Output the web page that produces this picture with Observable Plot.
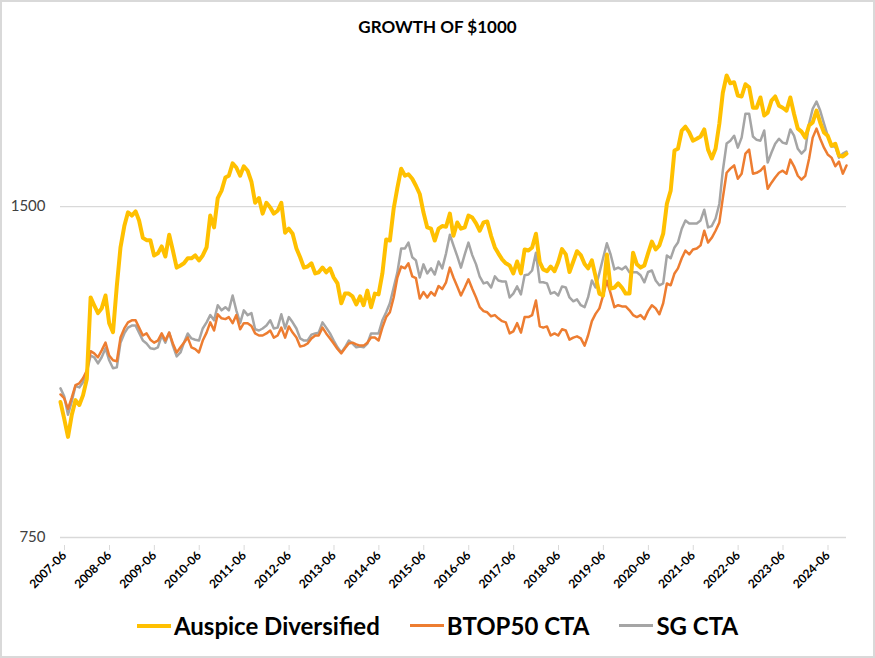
<!DOCTYPE html>
<html><head><meta charset="utf-8">
<script src="https://cdn.jsdelivr.net/npm/d3@7"></script>
<script src="https://cdn.jsdelivr.net/npm/@observablehq/plot@0.6"></script>
<style>
html,body{margin:0;padding:0;background:#fff;}
#wrap{position:relative;width:875px;height:658px;overflow:hidden;font-family:Lato,"Open Sans",sans-serif;background:#fff;}
#frame{position:absolute;left:0;top:0;width:875px;height:658px;box-sizing:border-box;border:2px solid #d9d9d9;pointer-events:none;}
#title{position:absolute;top:16px;left:0;width:875px;text-align:center;font-weight:bold;font-size:17px;color:#000;}
#chart{position:absolute;top:0;left:0;}
#legend{position:absolute;top:611px;left:0;width:875px;display:flex;justify-content:center;align-items:center;font-weight:bold;font-size:24px;color:#000;}
.item{display:flex;align-items:center;margin:0 15px;}
.sw{display:inline-block;width:34px;margin-right:3px;}
</style></head>
<body><div id="wrap">
<div id="title">GROWTH OF $1000</div>
<div id="chart"></div>
<div id="legend"></div>
<div id="frame"></div>
</div>
<script>
const startMonth = "2007-06";
const seriesNames = ["Auspice Diversified", "BTOP50 CTA", "SG CTA"];
const seriesColors = ["#FFC000", "#ED7D31", "#A5A5A5"];
const yTicks = [750, 1500];
const xTickMonths = ["2007-06","2008-06","2009-06","2010-06","2011-06","2012-06","2013-06","2014-06","2015-06","2016-06","2017-06","2018-06","2019-06","2020-06","2021-06","2022-06","2023-06","2024-06"];

const auspice = [
 996, 962, 926, 970, 1000, 990, 1010, 1045, 1240, 1220, 1200, 1212,
 1245, 1175, 1153, 1270, 1377, 1440, 1482, 1472, 1485, 1457, 1405, 1398,
 1398, 1354, 1360, 1380, 1351, 1414, 1368, 1320, 1326, 1332, 1346, 1346,
 1354, 1340, 1354, 1377, 1472, 1436, 1527, 1551, 1594, 1600, 1642, 1628,
 1600, 1632, 1617, 1580, 1512, 1527, 1478, 1512, 1497, 1478, 1487, 1512,
 1420, 1432, 1417, 1374, 1349, 1320, 1323, 1332, 1304, 1307, 1320, 1307,
 1318, 1293, 1277, 1225, 1250, 1250, 1243, 1222, 1243, 1220, 1258, 1215,
 1250, 1248, 1304, 1400, 1397, 1494, 1560, 1624, 1600, 1605, 1590, 1567,
 1540, 1482, 1436, 1432, 1397, 1432, 1440, 1438, 1478, 1411, 1451, 1432,
 1436, 1472, 1466, 1448, 1426, 1451, 1454, 1411, 1377, 1360, 1343, 1332,
 1326, 1304, 1337, 1304, 1371, 1368, 1377, 1417, 1335, 1315, 1310, 1323,
 1310, 1335, 1372, 1357, 1308, 1337, 1366, 1355, 1330, 1318, 1340, 1296,
 1250, 1245, 1357, 1263, 1266, 1277, 1266, 1250, 1250, 1362, 1329, 1320,
 1326, 1360, 1394, 1371, 1383, 1417, 1509, 1551, 1687, 1693, 1759, 1773,
 1752, 1722, 1729, 1737, 1763, 1690, 1659, 1693, 1785, 1904, 1974, 1942,
 1946, 1893, 1889, 1938, 1926, 1845, 1845, 1885, 1815, 1826, 1873, 1889,
 1853, 1845, 1834, 1885, 1822, 1766, 1755, 1733, 1778, 1789, 1834, 1789,
 1752, 1740, 1704, 1711, 1669, 1666, 1676
];
const btop50 = [
 1012, 1004, 982, 1006, 1032, 1036, 1047, 1064, 1108, 1103, 1094, 1110,
 1128, 1098, 1087, 1085, 1140, 1162, 1177, 1182, 1182, 1164, 1145, 1150,
 1135, 1128, 1133, 1150, 1133, 1152, 1126, 1105, 1117, 1128, 1140, 1117,
 1113, 1105, 1133, 1152, 1177, 1157, 1197, 1187, 1185, 1190, 1175, 1195,
 1160, 1175, 1175, 1168, 1150, 1145, 1145, 1150, 1157, 1140, 1145, 1164,
 1140, 1167, 1152, 1140, 1119, 1121, 1126, 1138, 1145, 1145, 1164, 1150,
 1138, 1126, 1113, 1103, 1115, 1126, 1128, 1124, 1121, 1121, 1128, 1140,
 1140, 1133, 1164, 1190, 1202, 1240, 1293, 1323, 1318, 1332, 1296, 1291,
 1237, 1254, 1240, 1254, 1245, 1270, 1262, 1280, 1320, 1293, 1269, 1245,
 1266, 1288, 1263, 1240, 1215, 1205, 1202, 1192, 1195, 1187, 1180, 1177,
 1150, 1155, 1175, 1152, 1190, 1190, 1195, 1232, 1167, 1164, 1167, 1145,
 1150, 1145, 1160, 1157, 1135, 1140, 1143, 1138, 1121, 1145, 1180, 1198,
 1212, 1245, 1284, 1250, 1215, 1220, 1217, 1217, 1207, 1195, 1190, 1195,
 1185, 1205, 1220, 1212, 1197, 1225, 1277, 1272, 1304, 1318, 1346, 1368,
 1357, 1371, 1374, 1383, 1426, 1391, 1405, 1426, 1451, 1527, 1610, 1624,
 1635, 1590, 1607, 1676, 1690, 1607, 1610, 1617, 1632, 1557, 1577, 1594,
 1610, 1617, 1607, 1655, 1632, 1600, 1587, 1600, 1659, 1733, 1766, 1729,
 1697, 1673, 1662, 1632, 1648, 1607, 1635
];
const sgcta = [
 1025, 1008, 970, 998, 1030, 1027, 1038, 1060, 1098, 1094, 1080, 1094,
 1115, 1087, 1069, 1071, 1128, 1150, 1164, 1169, 1169, 1152, 1133, 1126,
 1115, 1113, 1117, 1145, 1128, 1152, 1121, 1096, 1105, 1128, 1150, 1138,
 1135, 1133, 1162, 1177, 1195, 1182, 1220, 1207, 1215, 1207, 1245, 1207,
 1175, 1207, 1195, 1200, 1160, 1157, 1162, 1169, 1182, 1162, 1164, 1197,
 1162, 1190, 1177, 1162, 1138, 1133, 1133, 1147, 1150, 1152, 1177, 1164,
 1150, 1133, 1117, 1105, 1117, 1133, 1126, 1117, 1119, 1117, 1126, 1150,
 1150, 1150, 1182, 1202, 1225, 1266, 1307, 1374, 1374, 1391, 1349, 1340,
 1293, 1329, 1304, 1318, 1301, 1337, 1318, 1360, 1414, 1383, 1352, 1320,
 1357, 1391, 1355, 1329, 1295, 1277, 1280, 1266, 1296, 1285, 1282, 1282,
 1240, 1250, 1269, 1248, 1299, 1301, 1312, 1362, 1280, 1280, 1277, 1250,
 1254, 1245, 1269, 1266, 1240, 1230, 1235, 1220, 1215, 1240, 1285, 1266,
 1305, 1346, 1389, 1356, 1315, 1320, 1315, 1323, 1307, 1307, 1307, 1299,
 1280, 1308, 1312, 1285, 1272, 1277, 1354, 1346, 1377, 1391, 1432, 1457,
 1448, 1448, 1448, 1457, 1490, 1436, 1440, 1463, 1509, 1617, 1712, 1722,
 1740, 1697, 1733, 1822, 1822, 1737, 1725, 1722, 1759, 1645, 1680, 1711,
 1729, 1715, 1711, 1763, 1740, 1693, 1676, 1690, 1785, 1841, 1869, 1834,
 1785, 1740, 1701, 1701, 1662, 1676, 1683
];

const parseMonth = d3.utcParse("%Y-%m");
const start = parseMonth(startMonth);
const seriesValues = [auspice, btop50, sgcta];
const tables = seriesValues.map((vals, k) => vals.map((v, i) => ({date: d3.utcMonth.offset(start, i), value: v, series: seriesNames[k]})));
const lastDate = d3.utcMonth.offset(start, auspice.length - 1);
const widths = [4, 2.5, 2.5];

const plot = Plot.plot({
  width: 875, height: 600,
  marginTop: 50, marginBottom: 63, marginLeft: 60, marginRight: 29,
  style: {background: "transparent", fontFamily: "Lato, 'Open Sans', sans-serif", overflow: "visible"},
  x: {type: "utc", domain: [start, lastDate]},
  y: {type: "log", domain: [750, 2080]},
  marks: [
    Plot.ruleY([1500], {stroke: "#d9d9d9", strokeWidth: 1.3}),
    Plot.ruleY([750], {stroke: "#d9d9d9", strokeWidth: 1.5}),
    Plot.axisX({ticks: xTickMonths.map(parseMonth), tickFormat: d3.utcFormat("%Y-%m"), tickRotate: -45, tickSize: 5, tickPadding: 3, dx: 4, dy: 8, stroke: "#d9d9d9", fill: "#000", fontSize: 12, fontWeight: "bold", label: null}),
    Plot.axisY({ticks: yTicks, tickFormat: d => String(d), tickSize: 0, tickPadding: 15, fill: "#404040", fontSize: 15, label: null}),
    Plot.line(tables[2], {x: "date", y: "value", stroke: seriesColors[2], strokeWidth: widths[2]}),
    Plot.line(tables[1], {x: "date", y: "value", stroke: seriesColors[1], strokeWidth: widths[1]}),
    Plot.line(tables[0], {x: "date", y: "value", stroke: seriesColors[0], strokeWidth: widths[0]})
  ]
});
document.getElementById("chart").appendChild(plot);

const legend = document.getElementById("legend");
seriesNames.forEach((name, k) => {
  const item = document.createElement("div");
  item.className = "item";
  const sw = document.createElement("span");
  sw.className = "sw";
  sw.style.height = (k === 0 ? 4 : 3) + "px";
  sw.style.background = seriesColors[k];
  const t = document.createElement("span");
  t.textContent = name;
  item.appendChild(sw); item.appendChild(t);
  legend.appendChild(item);
});
</script>
</body></html>
